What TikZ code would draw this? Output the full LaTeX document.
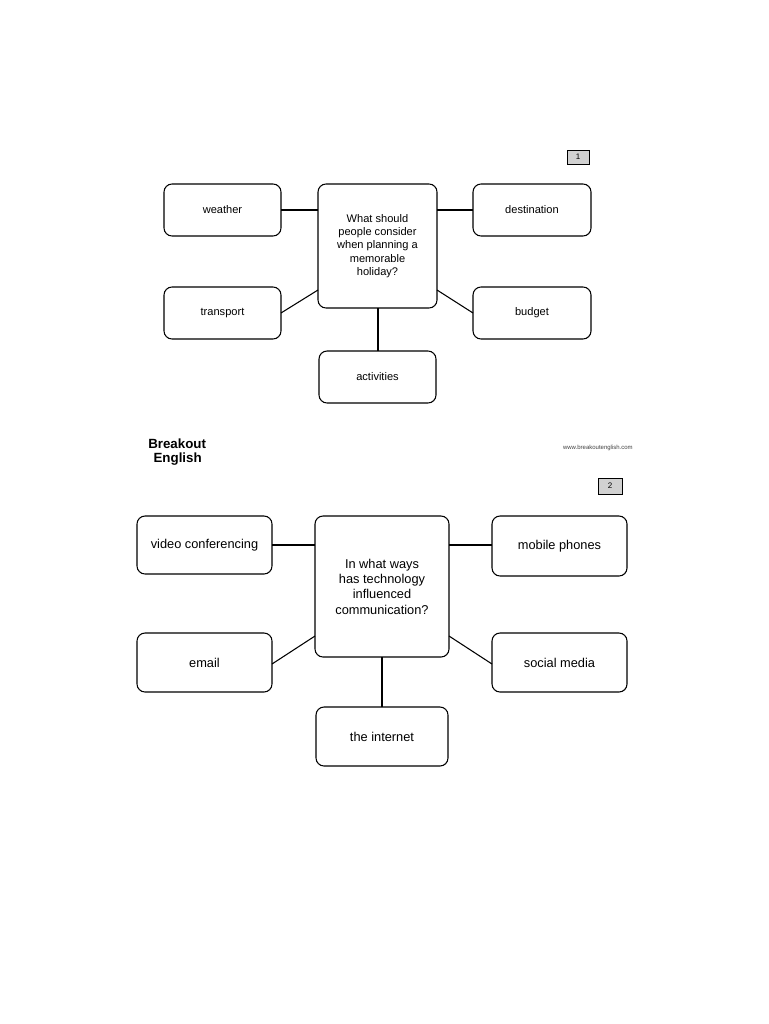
\documentclass[tikz,border=0pt]{standalone}
\usepackage{fontspec}
\setmainfont{Liberation Sans}
\begin{document}
\begin{tikzpicture}[x=0.75pt,y=-0.75pt,
  bx/.style={draw=black,line width=0.8pt,rounded corners=6pt},
  lk/.style={draw=black,line width=0.8pt},
  numbox/.style={draw=black,fill=black!18,line width=0.6pt,font=\fontsize{6}{7}\selectfont,inner sep=0pt}]
\useasboundingbox (0,0) rectangle (768,1024);
% diagram 1
\tikzset{t1/.style={font=\fontsize{8.3}{10}\selectfont,align=center}}
\draw[bx] (164,184) rectangle (281,236) node[midway,t1] (w) {weather};
\draw[bx] (473,184) rectangle (591,236) node[midway,t1] (d) {destination};
\draw[bx] (318,184) rectangle (437,308) node[midway,t1] (c1) {What should\\people consider\\when planning a\\memorable\\holiday?};
\draw[bx] (164,287) rectangle (281,339) node[midway,t1] (t) {transport};
\draw[bx] (473,287) rectangle (591,339) node[midway,t1] (b) {budget};
\draw[bx] (319,351) rectangle (436,403) node[midway,t1] (a) {activities};
\coordinate (w1) at (281,210); \coordinate (w2) at (318,210);
\coordinate (d1) at (437,210); \coordinate (d2) at (473,210);
\coordinate (t1) at (281,313); \coordinate (t2) at (318,290);
\coordinate (b1) at (437,290); \coordinate (b2) at (473,313);
\coordinate (a1) at (378,308); \coordinate (a2) at (378,351);
\draw[lk] (w1)--(w2); \draw[lk] (d1)--(d2); \draw[lk] (t1)--(t2); \draw[lk] (b1)--(b2); \draw[lk] (a1)--(a2);
\node[numbox,minimum width=16.5pt,minimum height=10.5pt] (n1) at (578,157) {1};
% logo and url
\node[font=\bfseries\fontsize{10}{10}\selectfont,align=left,inner sep=0pt,anchor=west] (logo) at (140,452) {\hspace*{6pt}Breakout\\\hspace*{10pt}English};
\node[font=\fontsize{4.5}{5}\selectfont,anchor=east,inner sep=0pt,text=black!75] (url) at (633,448) {www.breakoutenglish.com};
% diagram 2
\tikzset{t2/.style={font=\fontsize{9.6}{11.5}\selectfont,align=center}}
\draw[bx] (137,516) rectangle (272,574) node[midway,t2] (vc) {video conferencing};
\draw[bx] (492,516) rectangle (627,576) node[midway,t2] (mp) {mobile phones};
\draw[bx] (315,516) rectangle (449,657) node[midway,t2] (c2) {In what ways\\has technology\\influenced\\communication?};
\draw[bx] (137,633) rectangle (272,692) node[midway,t2] (em) {email};
\draw[bx] (492,633) rectangle (627,692) node[midway,t2] (sm) {social media};
\draw[bx] (316,707) rectangle (448,766) node[midway,t2] (ti) {the internet};
\coordinate (v1) at (272,545); \coordinate (v2) at (315,545);
\coordinate (m1) at (449,545); \coordinate (m2) at (492,545);
\coordinate (e1) at (272,664); \coordinate (e2) at (315,636);
\coordinate (s1) at (449,636); \coordinate (s2) at (492,664);
\coordinate (i1) at (382,657); \coordinate (i2) at (382,707);
\draw[lk] (v1)--(v2); \draw[lk] (m1)--(m2); \draw[lk] (e1)--(e2); \draw[lk] (s1)--(s2); \draw[lk] (i1)--(i2);
\node[numbox,minimum width=18pt,minimum height=12pt] (n2) at (610,486) {2};
\end{tikzpicture}
\end{document}
